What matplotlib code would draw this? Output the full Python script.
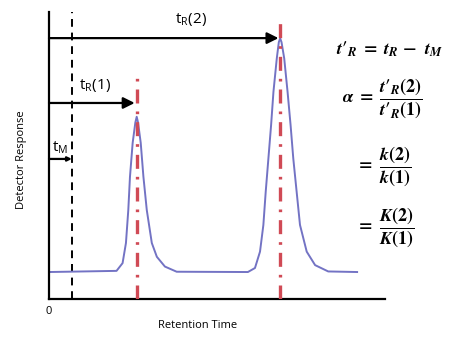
import matplotlib
matplotlib.use("Agg")
import matplotlib.pyplot as plt

# chromatogram trace (time, detector signal)
time = [0.00, 2.01, 2.19, 2.29, 2.36, 2.41, 2.49, 2.57, 2.61, 2.65, 2.73,
        2.81, 2.91, 3.06, 3.21, 3.45, 3.80, 5.92, 6.13, 6.28, 6.38, 6.45,
        6.53, 6.61, 6.68, 6.78, 6.84, 6.88, 6.92, 7.00, 7.10, 7.19, 7.27,
        7.37, 7.47, 7.67, 7.92, 8.31, 9.17]
signal = [9.4, 9.8, 12.5, 19.5, 31.0, 42.6, 54.4, 61.5, 63.5, 61.5, 54.4,
          42.6, 31.0, 19.5, 14.7, 11.3, 9.5, 9.4, 10.8, 16.5, 25.8, 37.4,
          49.0, 60.6, 72.2, 83.9, 89.5, 90.8, 89.5, 83.9, 72.2, 60.6, 49.0,
          37.4, 25.8, 16.5, 11.8, 9.6, 9.4]

t_m = 0.68
peak_times = [2.61, 6.88]
peak_marker_tops = [77, 98]
arrow_levels = [90.9, 68.3, 48.8]   # t_R(2), t_R(1), t_M
arrow_ends = [6.83, 2.55, t_m]
arrow_labels = ["t$_\\mathregular{R}$(2)", "t$_\\mathregular{R}$(1)",
                "t$_\\mathregular{M}$"]

plt.rcParams["font.family"] = ["Open Sans", "DejaVu Sans"]
plt.rcParams["mathtext.fontset"] = "stix"

W, H = 474, 341
fig = plt.figure(figsize=(W / 100, H / 100), dpi=100)
ax = fig.add_axes([49 / W, (H - 299) / H, 336 / W, 287 / H])
ax.set_xlim(0, 10)
ax.set_ylim(0, 100)

ax.plot(time, signal, color="#7373c4", lw=1.4, zorder=2)

for t, top in zip(peak_times, peak_marker_tops):
    ax.plot([t, t], [0, top], color="#d04a55", lw=2.4,
            dashes=(4.2, 2.4, 0.8, 2.4), zorder=3)

ax.axvline(t_m, color="black", lw=1.4, dashes=(4, 3), zorder=1)

for lvl, end in zip(arrow_levels, arrow_ends):
    small = end == t_m
    ax.annotate("", xy=(end, lvl), xytext=(0, lvl),
                arrowprops=dict(arrowstyle="-|>", color="black", lw=1.6,
                                mutation_scale=6 if small else 17,
                                shrinkA=0, shrinkB=0),
                zorder=4)

text_pos = [(3.75, 97.5), (0.9, 74.5), (0.1, 52.5)]
for (x, y), lab in zip(text_pos, arrow_labels):
    ax.text(x, y, lab, fontsize=11, ha="left", va="center")

for side in ["top", "right"]:
    ax.spines[side].set_visible(False)
for side in ["left", "bottom"]:
    ax.spines[side].set_linewidth(1.6)
ax.set_xticks([])
ax.set_yticks([])

fig.text(49 / W, 1 - 311 / H, "0", fontsize=8, ha="center", va="center")
fig.text(198 / W, 1 - 325 / H, "Retention Time", fontsize=8,
         ha="center", va="center")
fig.text(22 / W, 1 - 160 / H, "Detector Response", fontsize=8,
         ha="center", va="center", rotation=90)

tp = r"\mathbfit{t}\mathbf{" + "\u2032" + r"}_{\mathbfit{R}}"
eq_size = 13
fig.text(336 / W, 1 - 49 / H,
         r"$" + tp + r"\ \mathbf{=}\ \mathbfit{t}_{\mathbfit{R}}"
         r"\ \mathbf{-}\ \ \mathbfit{t}_{\mathbfit{M}}$",
         fontsize=eq_size, ha="left", va="center")
fig.text(342 / W, 1 - 99 / H,
         r"$\mathbfit{\alpha}\ \mathbf{=}\ \dfrac{" + tp +
         r"\mathbf{(2)}}{" + tp + r"\mathbf{(1)}}$",
         fontsize=eq_size, ha="left", va="center")
fig.text(356 / W, 1 - 167 / H,
         r"$\mathbf{=}\ \dfrac{\mathbfit{k}\mathbf{(2)}}{\mathbfit{k}\mathbf{(1)}}$",
         fontsize=eq_size, ha="left", va="center")
fig.text(356 / W, 1 - 228 / H,
         r"$\mathbf{=}\ \dfrac{\mathbfit{K}\mathbf{(2)}}{\mathbfit{K}\mathbf{(1)}}$",
         fontsize=eq_size, ha="left", va="center")

fig.savefig("out.png", dpi=100)
